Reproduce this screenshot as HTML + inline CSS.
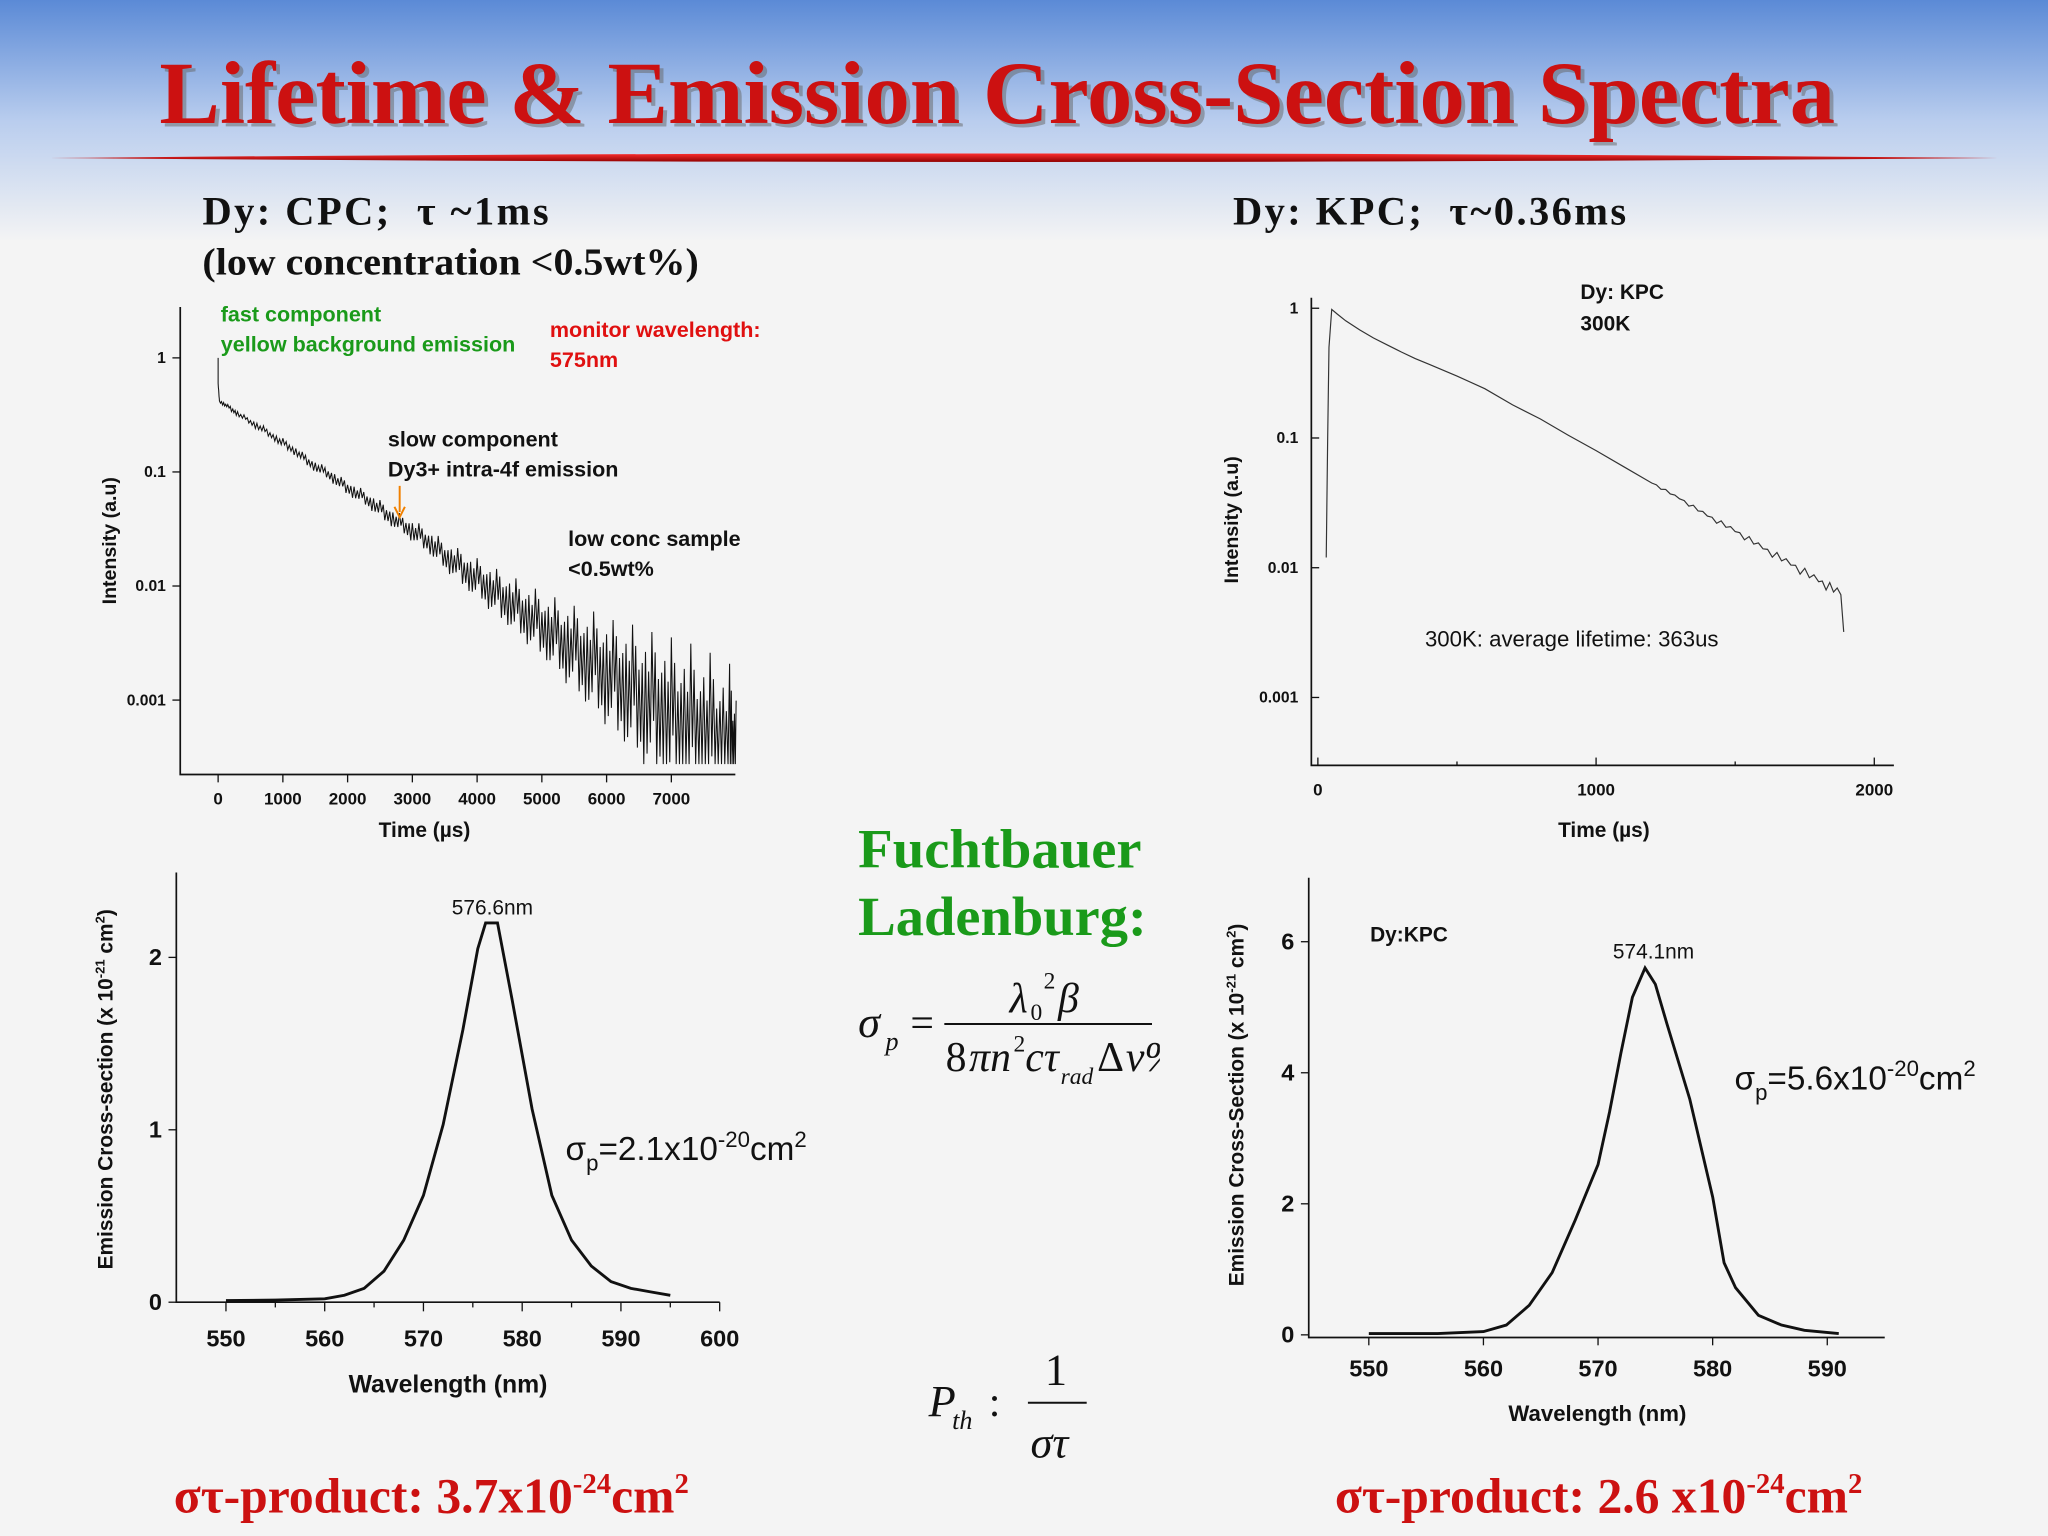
<!DOCTYPE html>
<html><head><meta charset="utf-8">
<style>
html,body{margin:0;padding:0;width:2048px;height:1536px;overflow:hidden;background:#f4f4f4}
svg{display:block}
.r{font-family:"Liberation Serif",serif}
</style></head><body>
<svg id="root" width="2048" height="1536" viewBox="0 0 1568 1176" xmlns="http://www.w3.org/2000/svg">
<defs>
<linearGradient id="bg" x1="0" y1="0" x2="0" y2="1">
<stop offset="0" stop-color="#5b8ad6"/><stop offset="0.5" stop-color="#b9cdee"/><stop offset="1" stop-color="#f4f4f4"/>
</linearGradient>
<linearGradient id="bar" x1="0" y1="0" x2="0" y2="1"><stop offset="0" stop-color="#ff3030"/><stop offset="1" stop-color="#900000"/></linearGradient>
</defs>
<rect width="1568" height="1176" fill="#f4f4f4"/>
<rect width="1568" height="185" fill="url(#bg)"/>
<text class="r" x="125" y="97" font-size="68" font-weight="bold" fill="#666" opacity="0.5" textLength="1283" lengthAdjust="spacingAndGlyphs">Lifetime &amp; Emission Cross-Section Spectra</text>
<text class="r" x="122" y="94" font-size="68" font-weight="bold" fill="#cc1111" textLength="1283" lengthAdjust="spacingAndGlyphs">Lifetime &amp; Emission Cross-Section Spectra</text>
<path d="M38 121 Q780 114 1530 121 Q780 127 38 121Z" fill="url(#bar)"/>

<text class="r" x="155" y="172" font-size="31" font-weight="bold" fill="#111" textLength="265" lengthAdjust="spacing" xml:space="preserve">Dy: CPC;  τ ~1ms</text>
<text class="r" x="155" y="210" font-size="29" font-weight="bold" fill="#111" textLength="380" lengthAdjust="spacingAndGlyphs">(low concentration &lt;0.5wt%)</text>
<text class="r" x="944" y="172" font-size="31" font-weight="bold" fill="#111" textLength="301" lengthAdjust="spacing" xml:space="preserve">Dy: KPC;  τ~0.36ms</text>

<g id="c1"></g>
<g id="c2"></g>
<g id="c3"></g>
<g id="c4"></g>

<text class="r" x="657" y="664" font-size="42" font-weight="bold" fill="#1a9a1a" textLength="217" lengthAdjust="spacingAndGlyphs">Fuchtbauer</text>
<text class="r" x="657" y="716" font-size="42" font-weight="bold" fill="#1a9a1a" textLength="221" lengthAdjust="spacingAndGlyphs">Ladenburg:</text>
<g class="r" font-style="italic" fill="#111">
<text x="657" y="794" font-size="34">σ</text><text x="678" y="804" font-size="20">p</text>
<text x="697" y="794" font-size="32" font-style="normal">=</text>
<text x="773" y="775" font-size="32">λ</text><text x="789" y="781" font-size="18" font-style="normal">0</text><text x="799" y="757" font-size="18" font-style="normal">2</text><text x="810" y="775" font-size="32">β</text>
<line x1="723" y1="784" x2="882" y2="784" stroke="#111" stroke-width="1.5"/>
<text x="724" y="820" font-size="32" font-style="normal">8</text><text x="742" y="820" font-size="32">πn</text><text x="776" y="805" font-size="18" font-style="normal">2</text><text x="785" y="820" font-size="32">cτ</text><text x="812" y="830" font-size="18">rad</text><text x="840" y="820" font-size="32" font-style="normal">Δ</text><text x="862" y="820" font-size="32">ν%</text>
</g>
<rect x="888" y="760" width="30" height="80" fill="#f4f4f4"/>
<g class="r" font-style="italic" fill="#111">
<text x="711" y="1084" font-size="34">P</text><text x="729" y="1094" font-size="20">th</text>
<text x="757" y="1084" font-size="32" font-style="normal">:</text>
<text x="800" y="1060" font-size="34" font-style="normal">1</text>
<line x1="787" y1="1074" x2="832" y2="1074" stroke="#111" stroke-width="1.5"/>
<text x="789" y="1116" font-size="34">στ</text>
</g>
<text class="r" x="133" y="1158" font-size="38" font-weight="bold" fill="#cc1111">στ-product: 3.7x10<tspan font-size="22" dy="-15">-24</tspan><tspan dy="15">cm</tspan><tspan font-size="22" dy="-15">2</tspan></text>
<text class="r" x="1022" y="1158" font-size="38" font-weight="bold" fill="#cc1111">στ-product: 2.6 x10<tspan font-size="22" dy="-15">-24</tspan><tspan dy="15">cm</tspan><tspan font-size="22" dy="-15">2</tspan></text>
</svg>
<script>
// ---- data ----
var c1Times=[0,0,20,150,300,500,700,900,1100,1300,1500,1700,1900,2100,2300,2500,2700,2900,3100,3300,3500,3700,3900,4100,4300,4500,4700,4900,5100,5300,5500,5700,5900,6100,6300,6500,6700,6900,7100,7300,7500,7700,7900,8000];
var c1Values=[1.0,0.6,0.42,0.38,0.33,0.28,0.24,0.2,0.17,0.14,0.115,0.1,0.082,0.07,0.06,0.05,0.041,0.035,0.03,0.025,0.02,0.017,0.014,0.012,0.01,0.0085,0.007,0.006,0.005,0.0042,0.0036,0.003,0.0026,0.0022,0.0019,0.0016,0.0014,0.0012,0.001,0.0009,0.0008,0.0007,0.0006,0.0005];
var c1Noise=[0,0,0,0.02,0.03,0.03,0.04,0.04,0.05,0.05,0.06,0.06,0.07,0.08,0.08,0.09,0.1,0.1,0.12,0.13,0.15,0.17,0.2,0.22,0.25,0.28,0.3,0.33,0.36,0.4,0.45,0.5,0.55,0.6,0.65,0.7,0.75,0.8,0.85,0.9,0.9,0.9,0.9,0.9];
var c1XTicks=[0,1000,2000,3000,4000,5000,6000,7000];
var c1YTicks=[1,0.1,0.01,0.001];
var c1YLabels=["1","0.1","0.01","0.001"];
var c2Times=[30,35,40,50,70,100,150,200,250,300,350,400,500,600,700,800,900,1000,1100,1200,1300,1400,1500,1600,1700,1800,1880,1890];
var c2Values=[0.012,0.1,0.5,0.98,0.9,0.8,0.68,0.59,0.52,0.46,0.41,0.37,0.3,0.24,0.18,0.14,0.105,0.08,0.06,0.045,0.034,0.025,0.019,0.014,0.0105,0.0078,0.0062,0.0032];
var c2XTicks=[0,1000,2000];
var c2YTicks=[1,0.1,0.01,0.001];
var c2YLabels=["1","0.1","0.01","0.001"];
var c3Wl=[550,555,560,562,564,566,568,570,572,574,575.5,576.3,577.5,579,581,583,585,587,589,591,593,595];
var c3Sig=[0.01,0.012,0.02,0.04,0.08,0.18,0.36,0.62,1.03,1.58,2.05,2.2,2.2,1.75,1.12,0.62,0.36,0.21,0.12,0.08,0.06,0.04];
var c3XTicks=[550,560,570,580,590,600];
var c3YTicks=[0,1,2];
var c4Wl=[550,556,560,562,564,566,568,570,571,572,573,574.1,575,576,578,580,581,582,584,586,588,591];
var c4Sig=[0.02,0.02,0.05,0.15,0.45,0.95,1.75,2.6,3.4,4.3,5.15,5.6,5.35,4.75,3.6,2.1,1.1,0.72,0.3,0.15,0.07,0.02];
var c4XTicks=[550,560,570,580,590];
var c4YTicks=[0,2,4,6];
// ---- helpers ----
var NS="http://www.w3.org/2000/svg";
function mk(p,tag,at){var e=document.createElementNS(NS,tag);for(var k in at)e.setAttribute(k,at[k]);p.appendChild(e);return e;}
function txt(p,x,y,s,sz,anc,fill,w){var t=mk(p,"text",{x:x,y:y,"font-size":sz,"text-anchor":anc||"start",fill:fill||"#111","font-family":"Liberation Sans, sans-serif"});if(w)t.setAttribute("font-weight",w);t.textContent=s;return t;}
function lin(a,b,c,d){return function(v){return c+(v-a)*(d-c)/(b-a);};}
function logs(a,b,c,d){return function(v){return c+(Math.log10(v)-Math.log10(a))*(d-c)/(Math.log10(b)-Math.log10(a));};}
function axes(g,x0,x1,yTop,yBot){
 var a=mk(g,"path",{d:"M"+x0+" "+yTop+"V"+yBot+"H"+x1,fill:"none",stroke:"#111","stroke-width":1.3});
 
 
}
// ---- chart 1 ----
(function(){
 var g=document.getElementById("c1");
 var X=lin(0,7000,167,514),Y=logs(1,0.001,274,536);
 axes(g,138,563,235,593);
 c1XTicks.forEach(function(v){mk(g,"line",{x1:X(v),x2:X(v),y1:593,y2:599,stroke:"#111"});var t=txt(g,X(v),616,String(v),13,"middle","#111","bold");});
 c1YTicks.forEach(function(v,i){mk(g,"line",{x1:132,x2:138,y1:Y(v),y2:Y(v),stroke:"#111"});var t=txt(g,127,Y(v)+4,c1YLabels[i],12,"end","#111","bold");});
 var d="",sgn=1,pat=[0.3,1,0.55,0.85,0.2,0.7,1,0.4,0.6,0.9,0.15,0.75];
 var cnt=0;
 for(var i=0;i<c1Times.length;i++){
  var steps=i<2?1:8;
  for(var k=0;k<steps;k++){
   var t0=i>0?c1Times[i-1]:c1Times[0];
   var tt=t0+(c1Times[i]-t0)*(k+1)/steps;
   var lp=Math.log10(i>0?c1Values[i-1]:c1Values[0]);
   var lv=lp+(Math.log10(c1Values[i])-lp)*(k+1)/steps;
   sgn=-sgn;cnt++;var amp=c1Noise[i]*pat[cnt%pat.length]*(sgn>0?0.6:1);
   var y=Math.min(585,Y(Math.pow(10,lv+sgn*amp)));
   d+=(d?"L":"M")+X(tt).toFixed(1)+" "+y.toFixed(1);
  }
 }
 var p=mk(g,"path",{d:d,fill:"none",stroke:"#111","stroke-width":0.8});
 
 var yl=txt(g,0,0,"Intensity (a.u)",15,"middle","#111","bold");yl.setAttribute("transform","translate(89,414) rotate(-90)");
 
 var xl=txt(g,325,641,"Time (µs)",16,"middle","#111","bold");
 
 txt(g,169,246,"fast component",16.5,"start","#1a9a1a","bold");
 txt(g,169,269,"yellow background emission",16.5,"start","#1a9a1a","bold");
 txt(g,421,258,"monitor wavelength:",16.5,"start","#e01010","bold");
 txt(g,421,281,"575nm",16.5,"start","#e01010","bold");
 txt(g,297,342,"slow component",16.5,"start","#111","bold");
 txt(g,297,365,"Dy3+ intra-4f emission",16.5,"start","#111","bold");
 txt(g,435,418,"low conc sample",16.5,"start","#111","bold");
 txt(g,435,441,"<0.5wt%",16.5,"start","#111","bold");
 mk(g,"path",{d:"M306 372V392M302 388L306 396L310 388",stroke:"#f08000","stroke-width":1.5,fill:"none"});
})();
// ---- chart 2 ----
(function(){
 var g=document.getElementById("c2");
 var X=lin(0,2000,1009,1435),Y=logs(1,0.001,236,534);
 axes(g,1004,1450,228,586);
 c2XTicks.forEach(function(v){mk(g,"line",{x1:X(v),x2:X(v),y1:586,y2:580,stroke:"#111"});var t=txt(g,X(v),609,String(v),13,"middle","#111","bold");});
 [500,1500].forEach(function(v){mk(g,"line",{x1:X(v),x2:X(v),y1:586,y2:583,stroke:"#111"});});
 c2YTicks.forEach(function(v,i){mk(g,"line",{x1:1004,x2:1010,y1:Y(v),y2:Y(v),stroke:"#111"});var t=txt(g,994,Y(v)+4,c2YLabels[i],12,"end","#111","bold");});
 var d="",pat=[1,-0.5,0.7,-1,0.3,-0.8];
 c2Times.forEach(function(t,i){
  if(i>0&&t>1200&&i<c2Times.length-1){
   var t0=c2Times[i-1],l0=Math.log10(c2Values[i-1]),l1=Math.log10(c2Values[i]);
   for(var k=1;k<6;k++){var tt=t0+(t-t0)*k/6;var yy=Y(Math.pow(10,l0+(l1-l0)*k/6))+pat[k]*(t-1100)/180;d+="L"+X(tt).toFixed(1)+" "+yy.toFixed(1);}
  }
  d+=(i?"L":"M")+X(t).toFixed(1)+" "+Y(c2Values[i]).toFixed(1);});
 var p=mk(g,"path",{d:d,fill:"none",stroke:"#333","stroke-width":0.9});
 
 var yl=txt(g,0,0,"Intensity (a.u)",15,"middle","#111","bold");yl.setAttribute("transform","translate(948,398) rotate(-90)");
 
 var xl=txt(g,1228,641,"Time (µs)",16,"middle","#111","bold");
 
 txt(g,1210,229,"Dy: KPC",16,"start","#111","bold");
 txt(g,1210,253,"300K",16,"start","#111","bold");
 txt(g,1091,495,"300K: average lifetime: 363us",17,"start","#111");
})();
// ---- chart 3 ----
(function(){
 var g=document.getElementById("c3");
 var X=lin(550,600,173,551),Y=lin(0,2,997,733);
 axes(g,135,551,668,997);
 c3XTicks.forEach(function(v){mk(g,"line",{x1:X(v),x2:X(v),y1:997,y2:1004,stroke:"#111"});var t=txt(g,X(v),1031,String(v),18,"middle","#111","bold");});
 [555,565,575,585,595].forEach(function(v){mk(g,"line",{x1:X(v),x2:X(v),y1:997,y2:1001,stroke:"#111"});});
 c3YTicks.forEach(function(v){mk(g,"line",{x1:129,x2:135,y1:Y(v),y2:Y(v),stroke:"#111"});var t=txt(g,124,Y(v)+6,String(v),18,"end","#111","bold");});
 var d="";c3Wl.forEach(function(w,i){d+=(i?"L":"M")+X(w).toFixed(1)+" "+Y(c3Sig[i]).toFixed(1);});
 var p=mk(g,"path",{d:d,fill:"none",stroke:"#111","stroke-width":2.2});
 
 var yl=txt(g,0,0,"",16,"middle","#111","bold");yl.setAttribute("transform","translate(86,834) rotate(-90)");
 yl.innerHTML='Emission Cross-section (x 10<tspan font-size="10" dy="-6">-21</tspan><tspan dy="6"> cm</tspan><tspan font-size="10" dy="-6">2</tspan><tspan dy="6">)</tspan>';
 
 var xl=txt(g,343,1066,"Wavelength (nm)",19,"middle","#111","bold");
 
 txt(g,377,700,"576.6nm",16,"middle","#111");
 var s=txt(g,433,888,"",25.5,"start","#111");s.innerHTML='σ<tspan font-size="17" dy="8">p</tspan><tspan dy="-8">=2.1x10</tspan><tspan font-size="17" dy="-10">-20</tspan><tspan dy="10">cm</tspan><tspan font-size="17" dy="-10">2</tspan>';
})();
// ---- chart 4 ----
(function(){
 var g=document.getElementById("c4");
 var X=lin(550,590,1048,1399),Y=lin(0,6,1022,721);
 axes(g,1002,1443,672,1024);
 c4XTicks.forEach(function(v){mk(g,"line",{x1:X(v),x2:X(v),y1:1024,y2:1030,stroke:"#111"});var t=txt(g,X(v),1054,String(v),18,"middle","#111","bold");});
 c4YTicks.forEach(function(v){mk(g,"line",{x1:996,x2:1002,y1:Y(v),y2:Y(v),stroke:"#111"});var t=txt(g,991,Y(v)+6,String(v),18,"end","#111","bold");});
 var d="";c4Wl.forEach(function(w,i){d+=(i?"L":"M")+X(w).toFixed(1)+" "+Y(c4Sig[i]).toFixed(1);});
 var p=mk(g,"path",{d:d,fill:"none",stroke:"#111","stroke-width":2.2});
 
 var yl=txt(g,0,0,"",16,"middle","#111","bold");yl.setAttribute("transform","translate(952,846) rotate(-90)");
 yl.innerHTML='Emission Cross-Section (x 10<tspan font-size="10" dy="-6">-21</tspan><tspan dy="6"> cm</tspan><tspan font-size="10" dy="-6">2</tspan><tspan dy="6">)</tspan>';
 
 var xl=txt(g,1223,1088,"Wavelength (nm)",17,"middle","#111","bold");
 
 txt(g,1049,721,"Dy:KPC",16,"start","#111","bold");
 txt(g,1266,734,"574.1nm",16,"middle","#111");
 var s=txt(g,1328,834,"",25.5,"start","#111");s.innerHTML='σ<tspan font-size="17" dy="8">p</tspan><tspan dy="-8">=5.6x10</tspan><tspan font-size="17" dy="-10">-20</tspan><tspan dy="10">cm</tspan><tspan font-size="17" dy="-10">2</tspan>';
})();
</script>
</body></html>
